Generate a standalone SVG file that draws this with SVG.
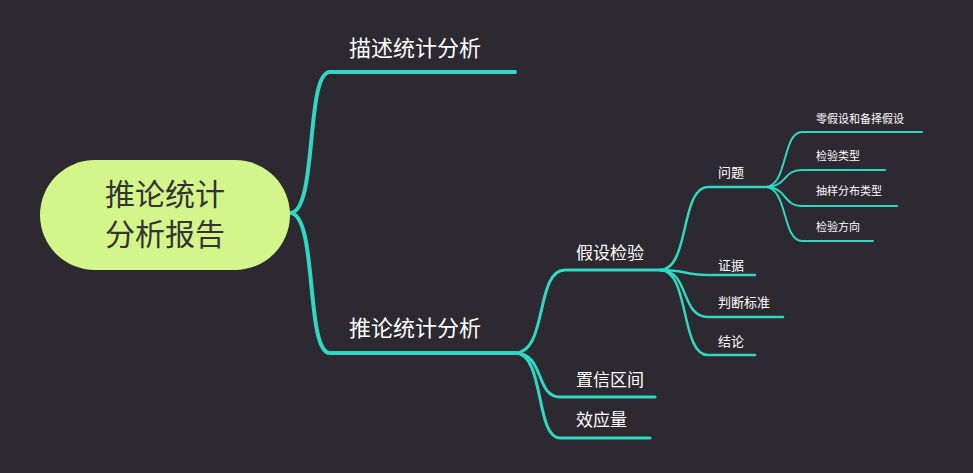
<svg xmlns="http://www.w3.org/2000/svg" width="973" height="473" viewBox="0 0 973 473">
<style>
.c{fill:none;stroke:#2ed8c3;stroke-linecap:round}
.t{fill:#fff;font-family:"Noto Sans CJK SC","Noto Sans",sans-serif}
.l1{stroke-width:4}.l2{stroke-width:3}.l3{stroke-width:2.5}.l4{stroke-width:2}
</style>
<rect width="973" height="473" fill="#2d2930"/>
<g id="connectors">
<path class="c l1" d="M290,213 C318,213 305,72 330,72 L515,72"/>
<path class="c l1" d="M290,213 C318,213 305,353 330,353 L515,353"/>
<path class="c l2" d="M515,353 C548,353 535,270 565,270 L660,270"/>
<path class="c l2" d="M515,353 C545,353 535,397 560,397 L655,397"/>
<path class="c l2" d="M515,353 C545,353 535,438 560,438 L650,438"/>
<path class="c l3" d="M660,270 C690,270 680,187 708,187 L765,187"/>
<path class="c l3" d="M660,270 C690,270 680,275 708,275 L755,275"/>
<path class="c l3" d="M660,270 C690,270 680,317 708,317 L783,317"/>
<path class="c l3" d="M660,270 C690,270 680,355 708,355 L755,355"/>
<path class="c l4" d="M765,187 C788,187 782,132 802,132 L922,132"/>
<path class="c l4" d="M765,187 C788,187 782,170 802,170 L885,170"/>
<path class="c l4" d="M765,187 C788,187 782,206 802,206 L897,206"/>
<path class="c l4" d="M765,187 C788,187 782,241 802,241 L873,241"/>
</g>
<g id="root"><rect x="40" y="160" width="250" height="110" rx="55" fill="#d4f58a"/>
<text x="165" y="205" text-anchor="middle" font-size="30" font-family="Noto Sans CJK SC,sans-serif" fill="#333">推论统计</text>
<text x="165" y="245" text-anchor="middle" font-size="30" font-family="Noto Sans CJK SC,sans-serif" fill="#333">分析报告</text></g>
<g id="n1"><text class="t" x="349" y="56" font-size="22">描述统计分析</text></g>
<g id="n2"><text class="t" x="349" y="336" font-size="22">推论统计分析</text></g>
<g id="n3"><text class="t" x="576" y="259" font-size="17">假设检验</text></g>
<g id="n4"><text class="t" x="576" y="386" font-size="17">置信区间</text></g>
<g id="n5"><text class="t" x="576" y="426" font-size="17">效应量</text></g>
<g id="n6"><text class="t" x="718" y="177" font-size="13">问题</text></g>
<g id="n7"><text class="t" x="718" y="270" font-size="13">证据</text></g>
<g id="n8"><text class="t" x="718" y="307" font-size="13">判断标准</text></g>
<g id="n9"><text class="t" x="718" y="346" font-size="13">结论</text></g>
<g id="n10"><text class="t" x="816" y="123" font-size="11">零假设和备择假设</text></g>
<g id="n11"><text class="t" x="816" y="160" font-size="11">检验类型</text></g>
<g id="n12"><text class="t" x="816" y="195" font-size="11">抽样分布类型</text></g>
<g id="n13"><text class="t" x="816" y="231" font-size="11">检验方向</text></g>
</svg>
